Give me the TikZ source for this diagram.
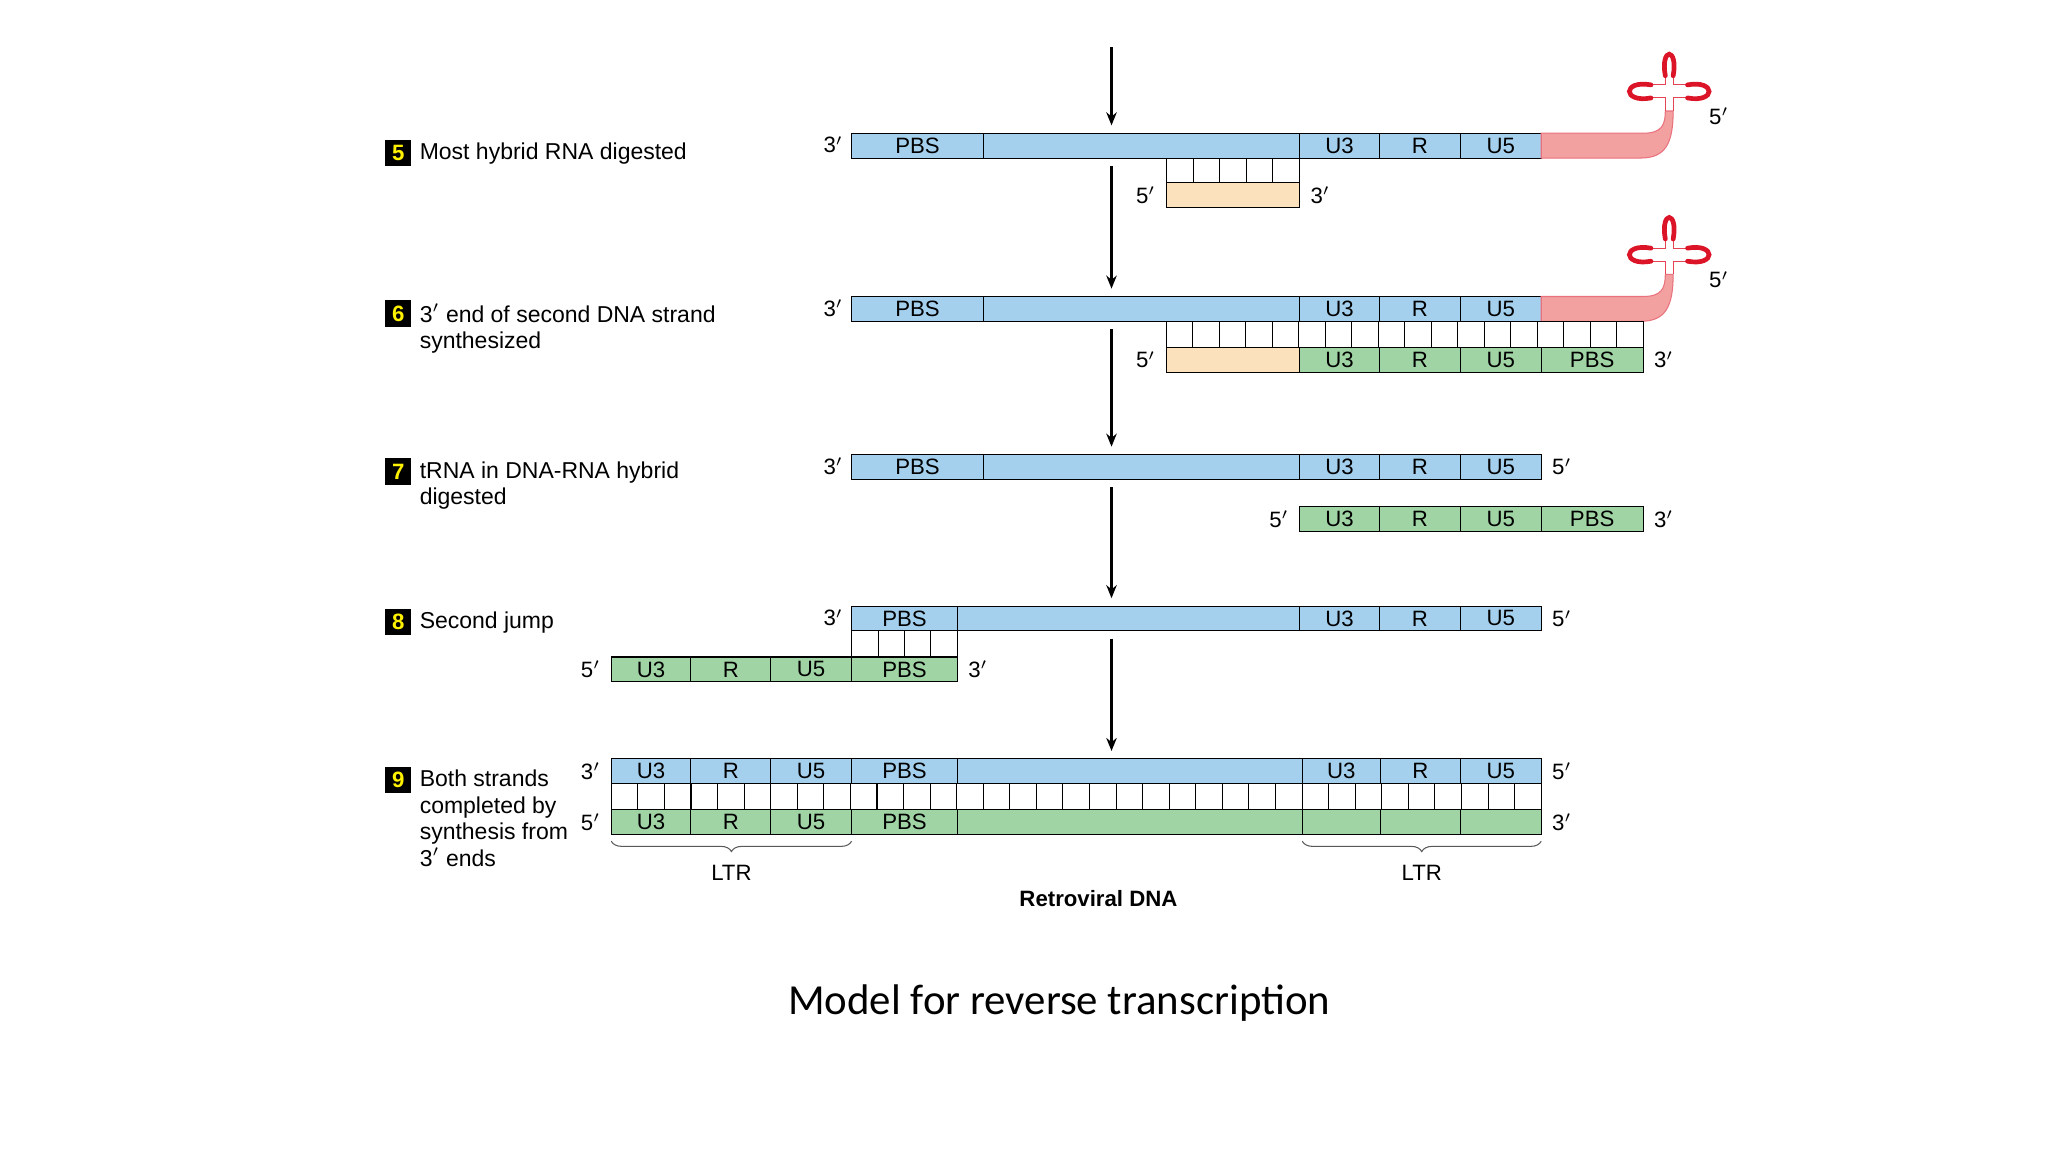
\documentclass[tikz,border=0pt]{standalone}
\usepackage{fontspec}
\setmainfont{Liberation Sans}
\newfontfamily\titlefont{Carlito}
\usetikzlibrary{arrows.meta, calc, positioning, decorations.pathreplacing}

\definecolor{rnablue}{RGB}{164,208,238}
\definecolor{dnagreen}{RGB}{160,212,164}
\definecolor{primer}{RGB}{252,226,188}
\definecolor{trnapink}{RGB}{242,160,160}
\definecolor{trnared}{RGB}{220,20,40}

% one segment of a strand
\newcommand{\seg}[6]{%
  \node[seg, fill=#5, minimum width={(#3-#2)*0.5pt}] (#1) at (#2,#4) {#6};}
% base-pair rungs between two strands
\newcommand{\rungs}[4]{%
  \draw[thin, fill=white] (#1,#3) rectangle (#2,#4);
  \pgfmathtruncatemacro{\nr}{round((#2-#1)/20.3)}
  \pgfmathsetmacro{\dr}{(#2-#1)/\nr}
  \foreach \k in {1,...,\numexpr\nr-1\relax}
    \draw[thin] ({#1+\k*\dr},#3) -- ({#1+\k*\dr},#4);}
% cloverleaf of the tRNA
\newcommand{\trna}[2]{%
  \fill[trnapink, draw=trnared!60, thin] (1180,#2) -- (1258,#2)
     .. controls (1272,#2) and (1275,{#2-6}) .. (1275,{#2-17}) -- (1281,{#2-17})
     .. controls (1281,{#2+8}) and (1275,{#2+19}) .. (1256,{#2+19}) -- (1180,{#2+19}) -- cycle;
  \draw[trnared!80, thin] (1275,{#2-17}) -- (1275,{#2-27}) -- (1264,{#2-27})
     (1264,{#2-37}) -- (1275,{#2-37}) -- (1275,{#2-44})
     (1281,{#2-44}) -- (1281,{#2-37}) -- (1292,{#2-37})
     (1292,{#2-27}) -- (1281,{#2-27}) -- (1281,{#2-17});
  \draw[trnared, line width=1.8pt, line cap=round]
     (1264,{#2-27}) .. controls (1242,{#2-23}) and (1242,{#2-41}) .. (1264,{#2-37})
     (1275,{#2-44}) .. controls (1271,{#2-66}) and (1285,{#2-66}) .. (1281,{#2-44})
     (1292,{#2-37}) .. controls (1314,{#2-41}) and (1314,{#2-23}) .. (1292,{#2-27});
  \node[lbl] (#1) at (1316,{#2-13}) {5$'$};}

\tikzset{
  seg/.style = {draw, thin, anchor=north west, inner sep=0pt, outer sep=0pt,
                minimum height=9.5pt, font=\fontsize{8.5}{9}\selectfont},
  lbl/.style = {inner sep=0pt, font=\fontsize{8.5}{9}\selectfont},
  stepbox/.style = {fill=black, text=yellow, inner sep=1.2pt, minimum width=10pt,
                 minimum height=10pt, font=\bfseries\fontsize{8.5}{9}\selectfont},
  stext/.style = {anchor=north west, inner sep=0pt, align=left,
                  font=\fontsize{8.8}{10.2}\selectfont},
  flow/.style = {-{Stealth[length=5pt, width=4pt]}, thick, shorten <=3pt, shorten >=3pt},
}

\begin{document}
\begin{tikzpicture}[x=0.5pt, y=-0.5pt]
\useasboundingbox (0,0) rectangle (1568,882);

%--- step labels
\node[stepbox] (s5) at (305,117) {5};
\node[stext] (t5) at (321,109) {Most hybrid RNA digested};
\node[stepbox] (s6) at (305,240) {6};
\node[stext] (t6) at (321,232) {3$'$ end of second DNA strand\\synthesized};
\node[stepbox] (s7) at (305,361) {7};
\node[stext] (t7) at (321,353) {tRNA in DNA-RNA hybrid\\digested};
\node[stepbox] (s8) at (305,476) {8};
\node[stext] (t8) at (321,468) {Second jump};
\node[stepbox] (s9) at (305,597) {9};
\node[stext] (t9) at (321,589) {Both strands\\completed by\\synthesis from\\3$'$ ends};

%--- step 5
\seg{a5}{652}{753}{102}{rnablue}{PBS}
\seg{b5}{753}{995}{102}{rnablue}{}
\seg{c5}{995}{1056}{102}{rnablue}{U3}
\seg{d5}{1056}{1118}{102}{rnablue}{R}
\seg{e5}{1118}{1180}{102}{rnablue}{U5}
\trna{q5}{102}
\rungs{893}{995}{121}{140}
\seg{p5}{893}{995}{140}{primer}{}
\node[lbl] (l5a) at (638,111) {3$'$};
\node[lbl, left=4pt of p5] (l5b) {5$'$};
\node[lbl, right=4pt of p5] (l5c) {3$'$};

%--- step 6
\seg{a6}{652}{753}{227}{rnablue}{PBS}
\seg{b6}{753}{995}{227}{rnablue}{}
\seg{c6}{995}{1056}{227}{rnablue}{U3}
\seg{d6}{1056}{1118}{227}{rnablue}{R}
\seg{e6}{1118}{1180}{227}{rnablue}{U5}
\trna{q6}{227}
\rungs{893}{1258}{246}{266}
\seg{p6}{893}{995}{266}{primer}{}
\seg{f6}{995}{1056}{266}{dnagreen}{U3}
\seg{g6}{1056}{1118}{266}{dnagreen}{R}
\seg{h6}{1118}{1180}{266}{dnagreen}{U5}
\seg{i6}{1180}{1258}{266}{dnagreen}{PBS}
\node[lbl] (l6a) at (638,236) {3$'$};
\node[lbl, left=4pt of p6] (l6b) {5$'$};
\node[lbl, right=4pt of i6] (l6c) {3$'$};

%--- step 7
\seg{a7}{652}{753}{348}{rnablue}{PBS}
\seg{b7}{753}{995}{348}{rnablue}{}
\seg{c7}{995}{1056}{348}{rnablue}{U3}
\seg{d7}{1056}{1118}{348}{rnablue}{R}
\seg{e7}{1118}{1180}{348}{rnablue}{U5}
\seg{f7}{995}{1056}{388}{dnagreen}{U3}
\seg{g7}{1056}{1118}{388}{dnagreen}{R}
\seg{h7}{1118}{1180}{388}{dnagreen}{U5}
\seg{i7}{1180}{1258}{388}{dnagreen}{PBS}
\node[lbl] (l7a) at (638,357) {3$'$};
\node[lbl, right=4pt of e7] (l7b) {5$'$};
\node[lbl, left=4pt of f7] (l7c) {5$'$};
\node[lbl, right=4pt of i7] (l7d) {3$'$};

%--- step 8
\seg{a8}{652}{733}{464}{rnablue}{PBS}
\seg{b8}{733}{995}{464}{rnablue}{}
\seg{c8}{995}{1056}{464}{rnablue}{U3}
\seg{d8}{1056}{1118}{464}{rnablue}{R}
\seg{e8}{1118}{1180}{464}{rnablue}{U5}
\rungs{652}{733}{483}{503}
\seg{f8}{468}{529}{503}{dnagreen}{U3}
\seg{g8}{529}{590}{503}{dnagreen}{R}
\seg{h8}{590}{652}{503}{dnagreen}{U5}
\seg{i8}{652}{733}{503}{dnagreen}{PBS}
\node[lbl] (l8a) at (638,473) {3$'$};
\node[lbl, right=4pt of e8] (l8b) {5$'$};
\node[lbl, left=4pt of f8] (l8c) {5$'$};
\node[lbl, right=4pt of i8] (l8d) {3$'$};

%--- step 9
\seg{a9}{468}{529}{581}{rnablue}{U3}
\seg{b9}{529}{590}{581}{rnablue}{R}
\seg{c9}{590}{652}{581}{rnablue}{U5}
\seg{d9}{652}{733}{581}{rnablue}{PBS}
\seg{e9}{733}{997}{581}{rnablue}{}
\seg{f9}{997}{1057}{581}{rnablue}{U3}
\seg{g9}{1057}{1118}{581}{rnablue}{R}
\seg{h9}{1118}{1180}{581}{rnablue}{U5}
\rungs{468}{1180}{600}{620}
\seg{m9}{468}{529}{620}{dnagreen}{U3}
\seg{n9}{529}{590}{620}{dnagreen}{R}
\seg{o9}{590}{652}{620}{dnagreen}{U5}
\seg{p9}{652}{733}{620}{dnagreen}{PBS}
\seg{r9}{733}{997}{620}{dnagreen}{}
\seg{u9}{997}{1057}{620}{dnagreen}{}
\seg{v9}{1057}{1118}{620}{dnagreen}{}
\seg{w9}{1118}{1180}{620}{dnagreen}{}
\node[lbl, left=4pt of a9] (l9a) {3$'$};
\node[lbl, right=4pt of h9] (l9b) {5$'$};
\node[lbl, left=4pt of m9] (l9c) {5$'$};
\node[lbl, right=4pt of w9] (l9d) {3$'$};

\draw[decorate, decoration={brace, mirror, amplitude=4pt}, gray!70!black, thin]
  ($(m9.south west)+(0,5)$) -- ($(o9.south east)+(0,5)$)
  node[midway, below=9pt, lbl, black] (ltr1) {LTR};
\draw[decorate, decoration={brace, mirror, amplitude=4pt}, gray!70!black, thin]
  ($(u9.south west)+(0,5)$) -- ($(w9.south east)+(0,5)$)
  node[midway, below=9pt, lbl, black] (ltr2) {LTR};
\node[lbl, font=\bfseries\fontsize{8.5}{9}\selectfont] (rdna) at (841,688) {Retroviral DNA};

%--- flow arrows
\coordinate (top) at (851,36);
\draw[flow, shorten <=0pt] (top) -- (b5.north -| top);
\draw[flow] (b5.south -| top) -- (b6.north -| top);
\draw[flow] (b6.south -| top) -- (b7.north -| top);
\draw[flow] (b7.south -| top) -- (b8.north -| top);
\draw[flow] (b8.south -| top) -- (e9.north -| top);

\node[font=\titlefont\fontsize{16.4}{19}\selectfont] (title) at (811,768) {Model for reverse transcription};
\end{tikzpicture}
\end{document}
